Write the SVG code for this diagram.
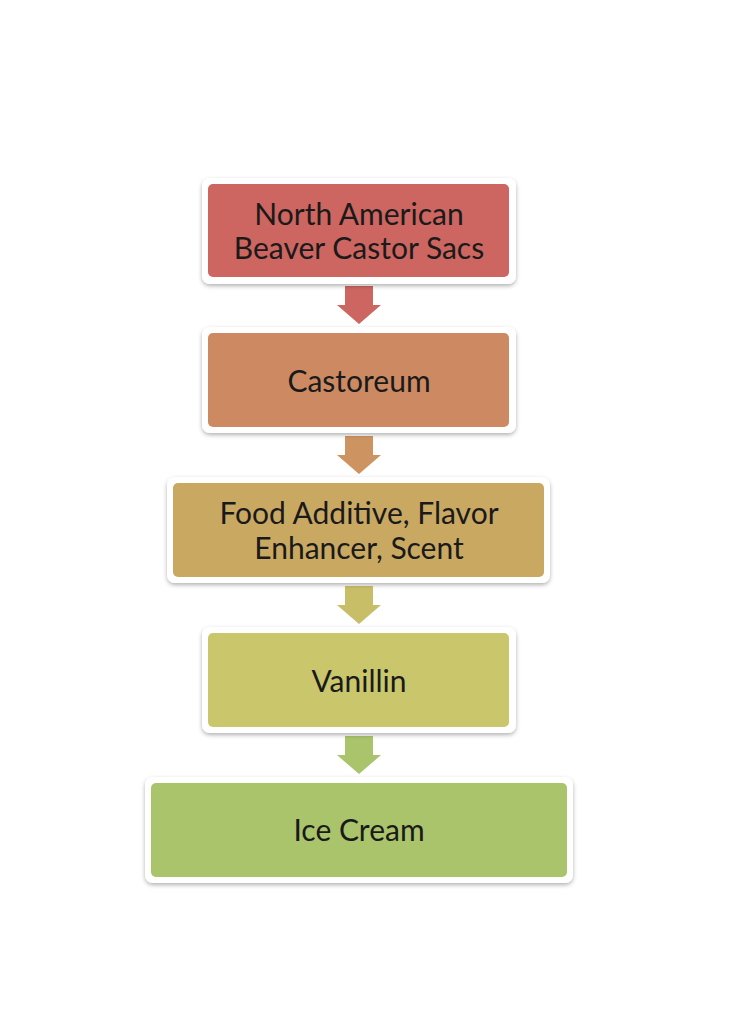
<svg xmlns="http://www.w3.org/2000/svg" width="730" height="1024" viewBox="0 0 730 1024">
<defs>
<style>
.frame{fill:#ffffff;filter:url(#sh)}
.lbl{font-family:Lato,"Open Sans","Liberation Sans",sans-serif;font-size:30px;fill:#1a1a1a;text-anchor:middle}
</style>
<filter id="sh" x="-10%" y="-20%" width="120%" height="140%">
<feDropShadow dx="0" dy="2" stdDeviation="2" flood-color="#000" flood-opacity="0.3"/>
</filter>
</defs>
<rect width="730" height="1024" fill="#ffffff"/>
<g id="connectors">
<path d="M345,286 H373 V305 H381 L359,324 L337,305 H345 Z" fill="#CD6661"/>
<path d="M345,436 H373 V455 H381 L359,474 L337,455 H345 Z" fill="#CD9462"/>
<path d="M345,586 H373 V605 H381 L359,624 L337,605 H345 Z" fill="#C9BE68"/>
<path d="M345,736 H373 V755 H381 L359,774 L337,755 H345 Z" fill="#A9C46B"/>
</g>
<g id="n1">
<rect class="frame" x="202" y="178" width="314" height="106" rx="8"/>
<rect x="208" y="184" width="301" height="93" rx="5" fill="#CD6560"/>
<text class="lbl" x="359" y="225">North American</text>
<text class="lbl" x="359" y="259">Beaver Castor Sacs</text>
</g>
<g id="n2">
<rect class="frame" x="202" y="327" width="314" height="106" rx="8"/>
<rect x="208" y="333" width="301" height="94" rx="5" fill="#CD8A62"/>
<text class="lbl" x="359" y="392">Castoreum</text>
</g>
<g id="n3">
<rect class="frame" x="167" y="477" width="383" height="106" rx="8"/>
<rect x="173" y="483" width="371" height="94" rx="5" fill="#C9A862"/>
<text class="lbl" x="359" y="524">Food Additive, Flavor</text>
<text class="lbl" x="359" y="559">Enhancer, Scent</text>
</g>
<g id="n4">
<rect class="frame" x="202" y="627" width="314" height="106" rx="8"/>
<rect x="208" y="633" width="301" height="94" rx="5" fill="#C9C66B"/>
<text class="lbl" x="359" y="692">Vanillin</text>
</g>
<g id="n5">
<rect class="frame" x="145" y="777" width="428" height="106" rx="8"/>
<rect x="151" y="783" width="416" height="94" rx="5" fill="#A9C46B"/>
<text class="lbl" x="359" y="841">Ice Cream</text>
</g>
</svg>
